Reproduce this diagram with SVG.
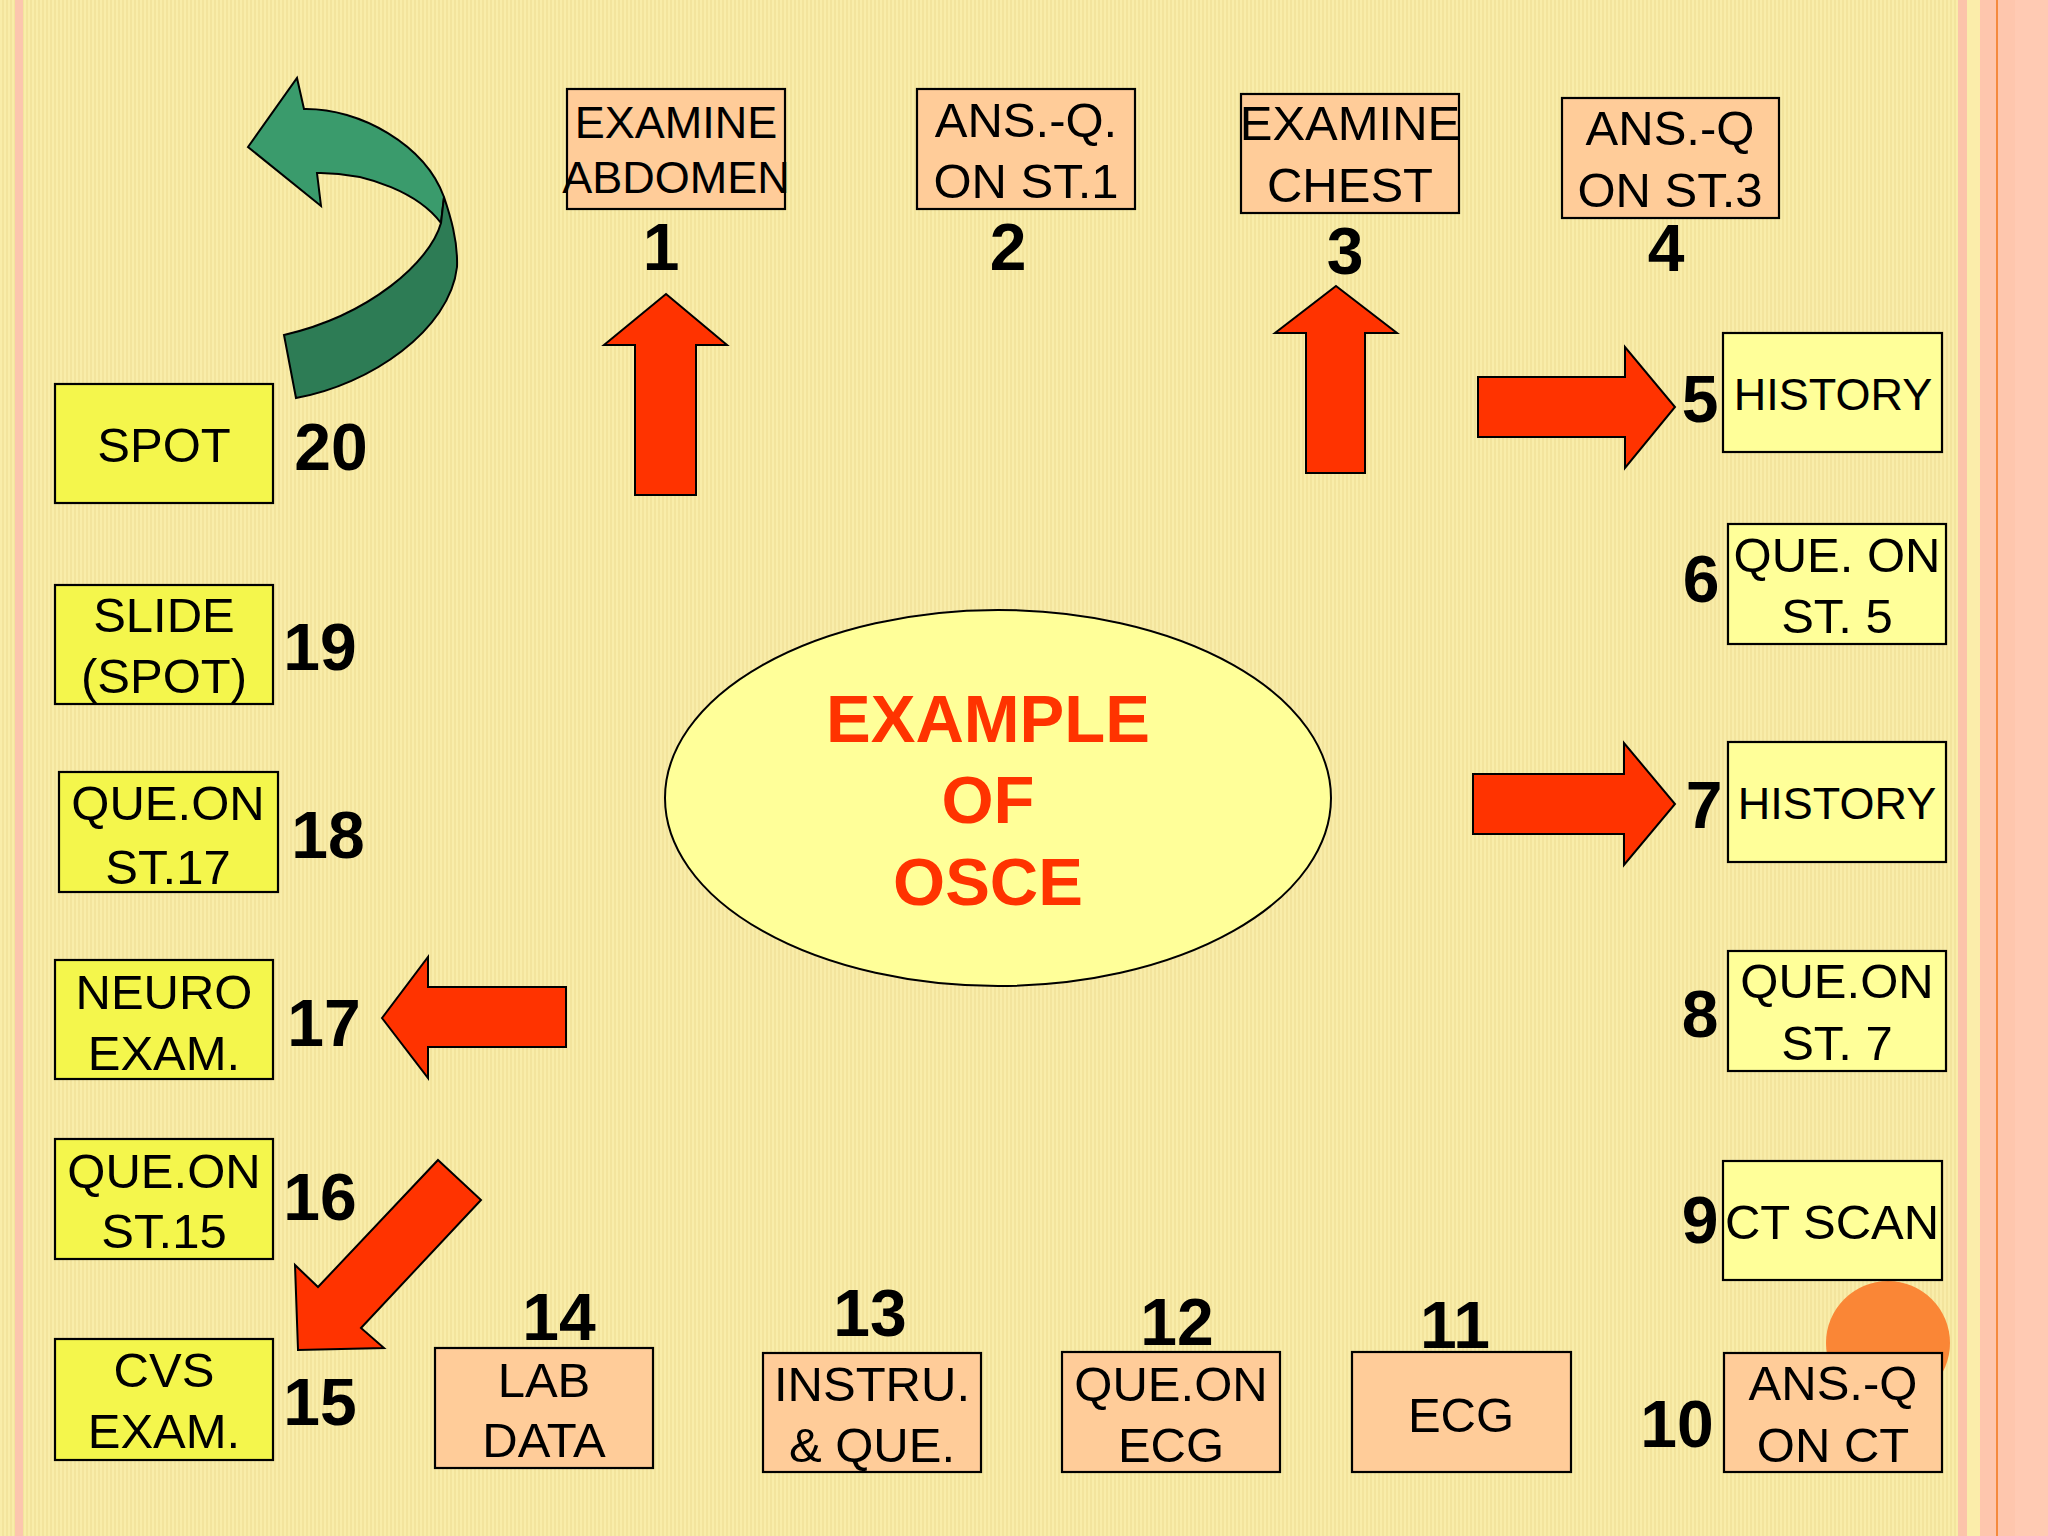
<svg xmlns="http://www.w3.org/2000/svg" width="2048" height="1536" viewBox="0 0 2048 1536">
<defs>
<pattern id="stripes" width="4" height="8" patternUnits="userSpaceOnUse">
<rect width="4" height="8" fill="#F9EDA9"/>
<rect x="2" width="2" height="8" fill="#F3E49D"/>
</pattern>
<style>
.box{stroke:#000;stroke-width:2.2}
.pe{fill:#FFCC99}
.ly{fill:#FFFF99}
.by{fill:#F4F64C}
.t{font-family:"Liberation Sans",Arial,sans-serif;font-size:49px;text-anchor:middle;fill:#000}
.n{font-family:"Liberation Sans",Arial,sans-serif;font-size:66px;font-weight:bold;text-anchor:middle;fill:#000}
.arr{fill:#FF3300;stroke:#000;stroke-width:2;stroke-linejoin:miter}
.title{font-family:"Liberation Sans",Arial,sans-serif;font-size:67px;font-weight:bold;text-anchor:middle;fill:#FF3300}
</style>
</defs>
<!-- background -->
<rect width="2048" height="1536" fill="url(#stripes)"/>
<rect x="15" y="0" width="8" height="1536" fill="#FCC6AE"/>
<rect x="1958" y="0" width="9" height="1536" fill="#FCC4AA"/>
<rect x="1967" y="0" width="13" height="1536" fill="#FBEDAA"/>
<rect x="1980" y="0" width="68" height="1536" fill="#FEC6AD"/>
<rect x="2015" y="0" width="33" height="1536" fill="#FFCAB3"/>
<rect x="1996" y="0" width="2" height="1536" fill="#F58A3E"/>

<circle cx="1888" cy="1343" r="62" fill="#FA8636"/>

<g id="connectors">
<g id="arrow-curved">
<path d="M 304,109 C 360,108 425,145 444,197 L 441,223 C 420,195 370,172 317,173 L 321,206 L 248,147 L 297,78 Z" fill="#3A9B6C" stroke="#000" stroke-width="2"/>
<path d="M 441,223 C 430,262 370,315 284,335 L 296,398 C 370,385 450,330 457,267 C 458,240 450,215 444,197 Z" fill="#2D7C55" stroke="#000" stroke-width="2"/>
</g>
<polygon id="arrow-1" class="arr" points="666,294 727,345 696,345 696,495 635,495 635,345 604,345"/>
<polygon id="arrow-3" class="arr" points="1336,286 1397,333 1365,333 1365,473 1306,473 1306,333 1275,333"/>
<polygon id="arrow-5" class="arr" points="1478,377 1625,377 1625,347 1675,407 1625,468 1625,437 1478,437"/>
<polygon id="arrow-7" class="arr" points="1473,774 1624,774 1624,743 1675,804 1624,865 1624,834 1473,834"/>
<polygon id="arrow-17" class="arr" points="382,1018 428,957 428,987 566,987 566,1047 428,1047 428,1078"/>
<polygon id="arrow-15" class="arr" points="438,1160 481,1200 361,1328 384,1348 298,1350 295,1265 318,1287"/>
</g>

<g id="center">
<ellipse cx="998" cy="798" rx="333" ry="188" fill="#FFFF99" stroke="#000" stroke-width="2"/>
<text class="title" x="988" y="742">EXAMPLE</text>
<text class="title" x="988" y="823">OF</text>
<text class="title" x="988" y="905">OSCE</text>
</g>

<g id="st1"><rect class="box pe" x="567" y="89" width="218" height="120"/>
<text class="t" x="676" y="138" style="font-size:45px">EXAMINE</text><text class="t" x="676" y="193" style="font-size:45px">ABDOMEN</text>
<text class="n" x="661" y="270">1</text></g>

<g id="st2"><rect class="box pe" x="917" y="89" width="218" height="120"/>
<text class="t" x="1026" y="137">ANS.-Q.</text><text class="t" x="1026" y="198">ON ST.1</text>
<text class="n" x="1008" y="270">2</text></g>

<g id="st3"><rect class="box pe" x="1241" y="94" width="218" height="119"/>
<text class="t" x="1350" y="140">EXAMINE</text><text class="t" x="1350" y="202">CHEST</text>
<text class="n" x="1345" y="274">3</text></g>

<g id="st4"><rect class="box pe" x="1562" y="98" width="217" height="120"/>
<text class="t" x="1670" y="145">ANS.-Q</text><text class="t" x="1670" y="207">ON ST.3</text>
<text class="n" x="1666" y="271">4</text></g>

<g id="st5"><rect class="box ly" x="1723" y="333" width="219" height="119"/>
<text class="t" x="1833" y="410" style="font-size:45px">HISTORY</text>
<text class="n" x="1700" y="422">5</text></g>

<g id="st6"><rect class="box ly" x="1728" y="524" width="218" height="120"/>
<text class="t" x="1837" y="572">QUE. ON</text><text class="t" x="1837" y="633">ST. 5</text>
<text class="n" x="1701" y="602">6</text></g>

<g id="st7"><rect class="box ly" x="1728" y="742" width="218" height="120"/>
<text class="t" x="1837" y="819" style="font-size:45px">HISTORY</text>
<text class="n" x="1704" y="828">7</text></g>

<g id="st8"><rect class="box ly" x="1728" y="951" width="218" height="120"/>
<text class="t" x="1837" y="998">QUE.ON</text><text class="t" x="1837" y="1060">ST. 7</text>
<text class="n" x="1700" y="1037">8</text></g>

<g id="st9"><rect class="box ly" x="1723" y="1161" width="219" height="119"/>
<text class="t" x="1832" y="1239">CT SCAN</text>
<text class="n" x="1700" y="1243">9</text></g>

<g id="st10"><rect class="box pe" x="1724" y="1353" width="218" height="119"/>
<text class="t" x="1833" y="1400">ANS.-Q</text><text class="t" x="1833" y="1462">ON CT</text>
<text class="n" x="1677" y="1447">10</text></g>

<g id="st11"><rect class="box pe" x="1352" y="1352" width="219" height="120"/>
<text class="t" x="1461" y="1432">ECG</text>
<text class="n" x="1455" y="1348">11</text></g>

<g id="st12"><rect class="box pe" x="1062" y="1352" width="218" height="120"/>
<text class="t" x="1171" y="1401">QUE.ON</text><text class="t" x="1171" y="1462">ECG</text>
<text class="n" x="1177" y="1345">12</text></g>

<g id="st13"><rect class="box pe" x="763" y="1353" width="218" height="119"/>
<text class="t" x="872" y="1401">INSTRU.</text><text class="t" x="872" y="1462">&amp; QUE.</text>
<text class="n" x="870" y="1336">13</text></g>

<g id="st14"><rect class="box pe" x="435" y="1348" width="218" height="120"/>
<text class="t" x="544" y="1397">LAB</text><text class="t" x="544" y="1457">DATA</text>
<text class="n" x="559" y="1340">14</text></g>

<g id="st15"><rect class="box by" x="55" y="1339" width="218" height="121"/>
<text class="t" x="164" y="1387">CVS</text><text class="t" x="164" y="1448">EXAM.</text>
<text class="n" x="320" y="1425">15</text></g>

<g id="st16"><rect class="box by" x="55" y="1139" width="218" height="120"/>
<text class="t" x="164" y="1188">QUE.ON</text><text class="t" x="164" y="1248">ST.15</text>
<text class="n" x="320" y="1220">16</text></g>

<g id="st17"><rect class="box by" x="55" y="960" width="218" height="119"/>
<text class="t" x="164" y="1009">NEURO</text><text class="t" x="164" y="1070">EXAM.</text>
<text class="n" x="324" y="1046">17</text></g>

<g id="st18"><rect class="box by" x="59" y="772" width="219" height="120"/>
<text class="t" x="168" y="820">QUE.ON</text><text class="t" x="168" y="884">ST.17</text>
<text class="n" x="328" y="858">18</text></g>

<g id="st19"><rect class="box by" x="55" y="585" width="218" height="119"/>
<text class="t" x="164" y="632">SLIDE</text><text class="t" x="164" y="693">(SPOT)</text>
<text class="n" x="320" y="670">19</text></g>

<g id="st20"><rect class="box by" x="55" y="384" width="218" height="119"/>
<text class="t" x="164" y="462">SPOT</text>
<text class="n" x="331" y="470">20</text></g>
</svg>
